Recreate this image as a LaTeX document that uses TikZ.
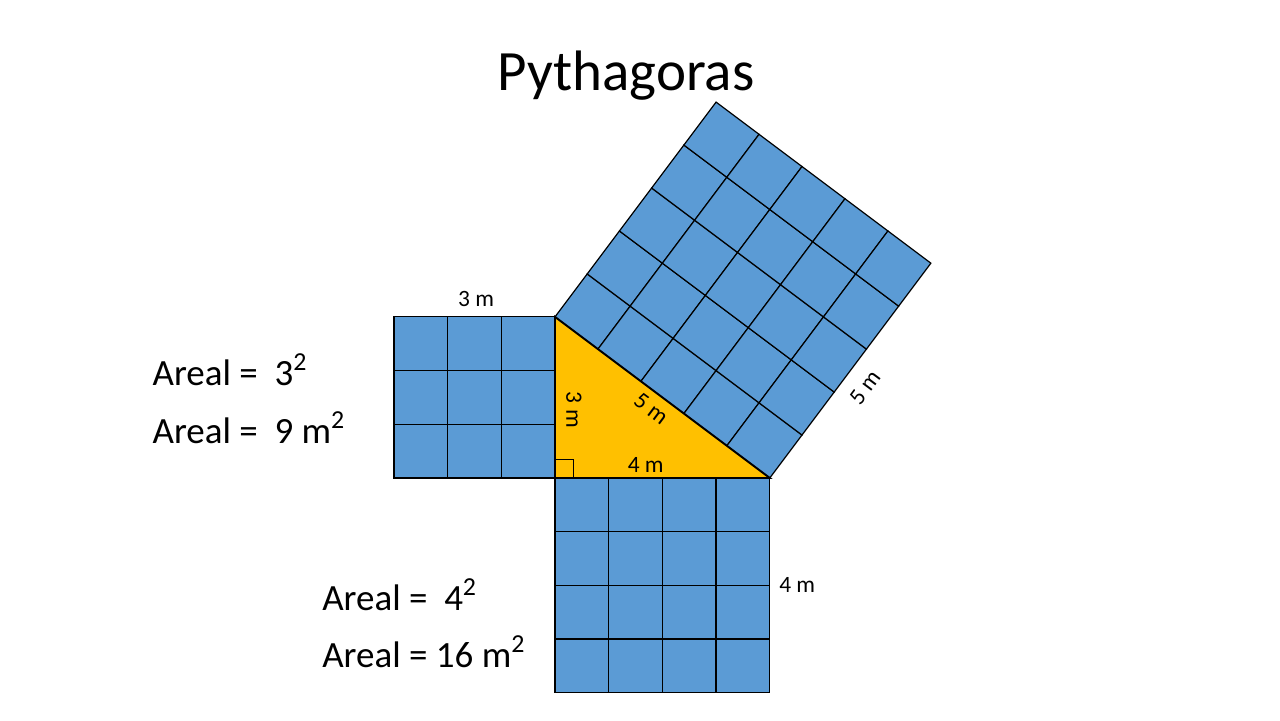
\documentclass[tikz,border=0pt]{standalone}
\usepackage{fontspec}
\setmainfont{Carlito}
\definecolor{tileblue}{HTML}{5B9BD5}
\definecolor{triyellow}{HTML}{FFC000}

\begin{document}
\begin{tikzpicture}[
  tile/.style={fill=tileblue, draw=black, line width=0.65pt},
  side/.style={font=\fontsize{12.4}{15}\selectfont, inner sep=0pt},
  areal/.style={font=\fontsize{19.6}{23}\selectfont, anchor=base west, inner sep=0pt}]
					% Fix the page to the slide size
					\useasboundingbox (-10.335,-4.507) rectangle (13.501,8.901);
					
					% Corners of the triangle
					\coordinate (C) at (0,0);
					\coordinate (A) at (0,3);
					\coordinate (B) at (4,0);
					
					% Draw 3 x 3 square on the short side
					\foreach \i in {0,1,2}
					\foreach \j in {0,1,2}
					\draw[tile] (-3+\i,\j) rectangle ++(1,1);
					
					% Draw 4 x 4 square under the triangle
					\foreach \i in {0,...,3}
					\foreach \j in {0,...,3}
					\draw[tile] (\i,-4+\j) rectangle ++(1,1);
					
					% Draw 5 x 5 square on the hypotenuse
					\begin{scope}[shift={(A)}, rotate=-36.87]
					\foreach \i in {0,...,4}
					\foreach \j in {0,...,4}
					\draw[tile] (\i,\j) rectangle ++(1,1);
					\end{scope}
					
					% Draw the triangle with its right angle
					\draw[fill=triyellow, line width=1pt] (A) -- (B) -- (C) -- cycle;
					\draw[line width=0.65pt] (C) ++(0,0.34) -| ++(0.34,-0.34);
					
					% Title
					\node[font=\fontsize{30.2}{36}\selectfont, anchor=base] (title) at (1.32,7.22) {Pythagoras};
					
					% Side labels
					\node[side] (side a top) at (-1.47,3.34) {3 m};
					\node[side, rotate=-90] (side a) at (0.35,1.27) {3 m};
					\node[side, rotate=-36.87] (side c) at (1.79,1.29) {5 m};
					\node[side] (side b) at (1.69,0.24) {4 m};
					\node[side, rotate=53.13] (side c out) at (5.77,1.69) {5 m};
					\node[side] (side b right) at (4.51,-1.99) {4 m};
					
					% Areas
					\node[areal] (area a1) at (-7.50,1.73) {Areal =\ \ 3\textsuperscript{2}};
					\node[areal] (area a2) at (-7.50,0.65) {Areal =\ \ 9 m\textsuperscript{2}};
					\node[areal] (area b1) at (-4.34,-2.46) {Areal =\ \ 4\textsuperscript{2}};
					\node[areal] (area b2) at (-4.34,-3.52) {Areal = 16 m\textsuperscript{2}};
\end{tikzpicture}
\end{document}
